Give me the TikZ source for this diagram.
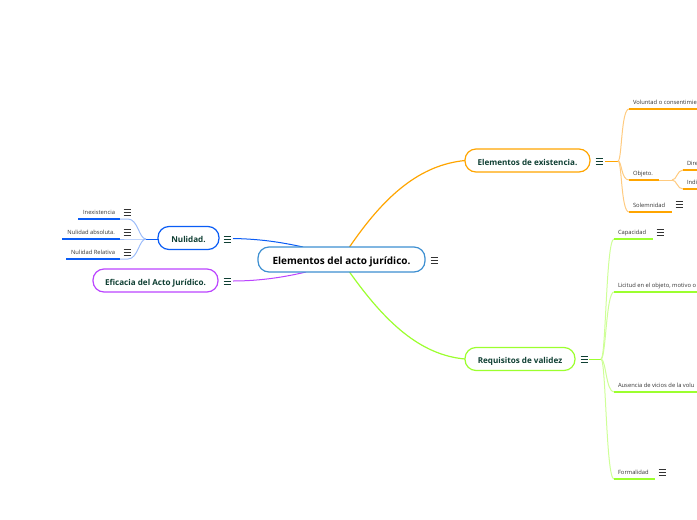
\documentclass[tikz,border=0pt]{standalone}
\usepackage{fontspec}
\setmainfont{Open Sans}
\usepackage{tikz}
\usetikzlibrary{calc}
\usetikzlibrary{backgrounds}
\definecolor{rootblue}{HTML}{3D8FD1}
\definecolor{orangeb}{HTML}{FFA500}
\definecolor{orangel}{HTML}{FFCB80}
\definecolor{greenb}{HTML}{9CFF2E}
\definecolor{greenl}{HTML}{CEFF97}
\definecolor{blueb}{HTML}{0A5CF5}
\definecolor{bluel}{HTML}{9DBDFA}
\definecolor{purpleb}{HTML}{BB44FF}
\definecolor{branchtext}{HTML}{0F3F33}
\definecolor{leaftext}{HTML}{333333}
\begin{document}
\begin{tikzpicture}[
  x = 1pt, y = -1pt,
  outer sep = 0pt,
    topic/.style = {draw=#1, fill=white, line width=1.2pt, rounded corners=11pt,
                    inner sep=0pt, minimum height=23pt, text height=9pt, text depth=0pt,
                    font=\bfseries\fontsize{8.1}{10}\selectfont, text=branchtext},
     leaf/.style = {inner sep=0pt, font=\fontsize{5.8}{7}\selectfont, text=leaftext},
    under/.style = {draw=#1, line width=1.5pt},
     twig/.style = {draw=#1, line width=1pt},
   menubar/.pic  = {\foreach \k in {-3,0,3}
                      \draw[pic actions, line width=.8pt] (-3.5,\k) -- (3.5,\k);}
                   ]
\useasboundingbox (0,0) rectangle (697,520);
% topics
\node[topic=rootblue, minimum width=167pt, minimum height=25pt, text=black, text height=10.5pt,
      font=\bfseries\fontsize{10}{12}\selectfont] (root) at (341.5,259.5) {Elementos del acto jurídico.};
\node[topic=orangeb, minimum width=125pt] (existencia) at (527.5,160.5) {Elementos de existencia.};
\node[topic=greenb, minimum width=110pt] (requisitos) at (520,359) {Requisitos de validez};
\node[topic=blueb, minimum width=61pt] (nulidad) at (188.5,238) {Nulidad.};
\node[topic=purpleb, minimum width=125pt] (eficacia) at (155.5,280.5) {Eficacia del Acto Jurídico.};
% leaves on the right
\foreach \name/\col/\x/\y/\w/\txt in {
    voluntad/orangeb/629/109/68/{Voluntad o consentimie},
    objeto/orangeb/629/180/30/{Objeto.},
    solemnidad/orangeb/629/212/43/{Solemnidad},
    directo/orangeb/683/170/14/{Dire},
    indirecto/orangeb/683/189/14/{Indi},
    capacidad/greenb/614/239/39/{Capacidad},
    licitud/greenb/614/292/83/{Licitud en el objeto, motivo o},
    ausencia/greenb/614/392/83/{Ausencia de vicios de la volu},
    formalidad/greenb/614/479/41/{Formalidad}} {
  \coordinate (\name L) at (\x,\y);
  \coordinate (\name R) at (\x+\w,\y);
  \node[leaf, anchor=base west] (\name) at (\x+4,\y-5) {\txt};
  \draw[under=\col] (\name L) -- (\name R);
}
% leaves on the left
\foreach \name/\x/\y/\txt in {
    inexistencia/78/219/{Inexistencia},
    absoluta/62/239/{Nulidad absoluta.},
    relativa/66/259/{Nulidad Relativa}} {
  \coordinate (\name L) at (\x,\y);
  \coordinate (\name R) at (120,\y);
  \node[leaf, anchor=base east] (\name) at (115,\y-5) {\txt};
  \draw[under=blueb] (\name L) -- (\name R);
}
% menu marks
\foreach \px/\py/\col in {434/260/leaftext, 599/161/branchtext, 584/359/branchtext,
    227/239/branchtext, 227/281/branchtext, 679/204/leaftext, 660/232/leaftext,
    662/472/leaftext, 127/212/leaftext, 127/232/leaftext, 127/252/leaftext}
  \pic[draw=\col] at (\px,\py) {menubar};
% connectors
\coordinate (existenciaT) at (618,161);
\coordinate (requisitosT) at (601,359);
\coordinate (nulidadT) at (146,239);
\coordinate (objetoT) at (672,180);
\begin{scope}[on background layer]
  \draw[orangeb, line width=1.2pt] (root.north) ++(8,0) .. controls (385,195) and (420,165) .. (existencia.west);
  \draw[greenb, line width=1.2pt] (root.south) ++(8,0) .. controls (385,322) and (420,355) .. (requisitos.west);
  \draw[blueb, line width=1pt] (233,238.5) .. controls (260,239) and (280,242) .. ($(root.north west)+(45,0)$);
  \draw[purpleb, line width=1pt] (233,281) .. controls (260,281) and (285,277) .. ($(root.south west)+(48,0)$);
  \draw[orangeb, line width=1pt] (605,161) -- (existenciaT);
  \draw[greenb, line width=1pt] (589,359) -- (requisitosT);
  \draw[blueb, line width=1pt] (nulidad.west |- nulidadT) -- (nulidadT);
  \foreach \kid in {voluntad,objeto,solemnidad}
    \draw[twig=orangel] (existenciaT) .. controls (622,161) and ($(\kid L)-(8,0)$) .. (\kid L);
  \foreach \kid in {capacidad,licitud,ausencia,formalidad}
    \draw[twig=greenl] (requisitosT) .. controls (606,359) and ($(\kid L)-(8,0)$) .. (\kid L);
  \foreach \kid in {inexistencia,absoluta,relativa}
    \draw[twig=bluel] (nulidadT) .. controls (139,239) and ($(\kid R)+(18,0)$) .. ($(\kid R)+(8,0)$) -- (\kid R);
  \draw[twig=orangel] (objetoR) -- (objetoT);
  \foreach \kid in {directo,indirecto}
    \draw[twig=orangel] (objetoT) .. controls (677,180) and ($(\kid L)-(6,0)$) .. (\kid L);
\end{scope}
\end{tikzpicture}
\end{document}
